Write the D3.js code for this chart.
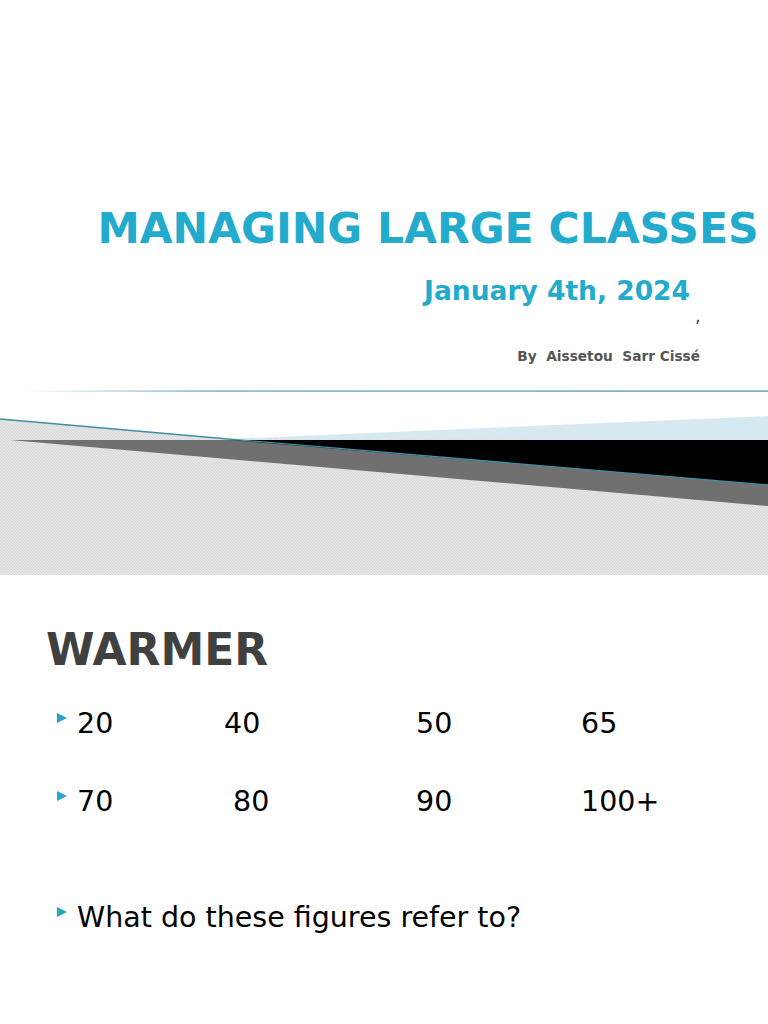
<!DOCTYPE html>
<html><head><meta charset="utf-8">
<script src="https://cdn.jsdelivr.net/npm/d3@7"></script>
<style>body{margin:0;background:#fff}svg{display:block}</style></head>
<body><svg id="s" width="768" height="1024"></svg>
<script>
const title = "MANAGING LARGE CLASSES";
const dateText = "January 4th, 2024";
const author = "By  Aissetou  Sarr Cissé";
const heading = "WARMER";
const row1 = ["20", "40", "50", "65"];
const row2 = ["70", "80", "90", "100+"];
const question = "What do these figures refer to?";

const svg = d3.select("#s");
const defs = svg.append("defs");
const pat = defs.append("pattern").attr("id","hatch").attr("width",3).attr("height",3)
  .attr("patternUnits","userSpaceOnUse");
pat.append("rect").attr("width",3).attr("height",3).attr("fill","#e6e6e6");
pat.append("path").attr("d","M0,0 L3,3").attr("stroke","#d0d0d0").attr("stroke-width",0.8);
const lg = defs.append("linearGradient").attr("id","lg");
lg.append("stop").attr("offset","0").attr("stop-color","#fff");
lg.append("stop").attr("offset","0.25").attr("stop-color","#5aa6b8");
lg.append("stop").attr("offset","1").attr("stop-color","#3a8ea6");

const line = d3.line();
svg.append("rect").attr("x",20).attr("y",390.5).attr("width",748).attr("height",1.2).attr("fill","url(#lg)");
svg.append("path").attr("d",line([[0,419],[228,439],[768,439],[768,575],[0,575]])+"Z").attr("fill","url(#hatch)");
svg.append("path").attr("d",line([[228,439],[768,416],[768,440]])+"Z").attr("fill","#d7e9f0");
svg.append("path").attr("d",line([[10,440],[228,440],[768,485],[768,506]])+"Z").attr("fill","#707070");
svg.append("path").attr("d",line([[228,440],[768,440],[768,485]])+"Z").attr("fill","#000");
svg.append("path").attr("d",line([[0,419],[228,439],[768,485]])).attr("fill","none").attr("stroke","#3f8fa3").attr("stroke-width",1.3);

const F = "DejaVu Sans, sans-serif";
svg.append("text").attr("x",428).attr("y",243).attr("text-anchor","middle").attr("font-family",F)
  .attr("font-weight","bold").attr("font-size",42.5).attr("fill","#22abcc").text(title);
svg.append("text").attr("x",690).attr("y",300).attr("text-anchor","end").attr("font-family",F)
  .attr("font-weight","bold").attr("font-size",26.5).attr("fill","#22abcc").text(dateText);
svg.append("text").attr("x",695).attr("y",322).attr("font-family",F).attr("font-size",18).attr("fill","#444").text(",");
svg.append("text").attr("x",700).attr("y",361).attr("text-anchor","end").attr("font-family",F)
  .attr("font-weight","bold").attr("font-size",13.7).attr("fill","#555").attr("xml:space","preserve").text(author);
svg.append("text").attr("x",46).attr("y",665).attr("font-family",F).attr("font-weight","bold")
  .attr("font-size",44).attr("fill","#404040").text(heading);

const cols1 = [77,224,416,581], cols2 = [77,233,416,581];
function bullet(y){ svg.append("path").attr("d",line([[57,y-10],[67,y-5],[57,y]])+"Z").attr("fill","#2aa3c6"); }
[[row1,cols1,733],[row2,cols2,811]].forEach(([r,c,y])=>{
  bullet(y-10);
  svg.selectAll(null).data(r).enter().append("text").attr("x",(d,i)=>c[i]).attr("y",y)
    .attr("font-family",F).attr("font-size",28.5).attr("fill","#000").text(d=>d);
});
bullet(917);
svg.append("text").attr("x",77).attr("y",927).attr("font-family",F).attr("font-size",28.5).attr("fill","#000").text(question);
</script></body></html>
